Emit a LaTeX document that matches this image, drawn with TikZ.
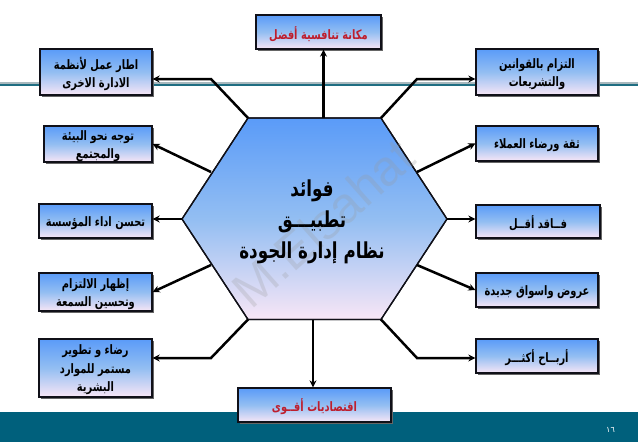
\documentclass[tikz,border=0pt]{standalone}
\usepackage{fontspec}
\usetikzlibrary{arrows.meta,shadows}
\setmainfont{Liberation Sans}
\newfontfamily\arabicfont[Script=Arabic,FakeStretch=0.76]{DejaVu Sans}
\newfontfamily\digitfont[Script=Arabic]{DejaVu Sans}
\TeXXeTstate=1
\newcommand{\artext}[1]{\raisebox{-2pt}[\height][\depth]{\beginR #1\endR}}
\definecolor{bandteal}{HTML}{00607C}
\definecolor{linedark}{HTML}{1F6E82}
\definecolor{linelight}{HTML}{A9B9BE}
\definecolor{gradtop}{HTML}{5A9BF8}
\definecolor{gradmid}{HTML}{93BEF2}
\definecolor{gradbot}{HTML}{F8E6F6}
\definecolor{redtext}{HTML}{BE1E2D}
\definecolor{edgeblack}{HTML}{101018}
\tikzset{
  gradbox/.style={draw=edgeblack,line width=1.3pt,top color=gradtop,bottom color=gradbot,middle color=gradmid,
    drop shadow={shadow xshift=2pt,shadow yshift=-2pt,fill=black!60,opacity=1},
    align=center,inner sep=0pt,text=black,font=\arabicfont\bfseries\fontsize{13}{18.5}\selectfont},
  redbox/.style={gradbox,text=redtext},
  conn/.style={line width=2.5pt,black,-{Stealth[length=7pt,width=7pt]},line join=miter},
  hexa/.style={draw=edgeblack,line width=1.3pt,top color=gradtop,bottom color=gradbot,middle color=gradmid},
  mark text/.style={font=\fontsize{50}{50}\selectfont,text=black!40,opacity=.25,rotate=41.5},
  hextext/.style={align=center,font=\arabicfont\bfseries\fontsize{22}{31}\selectfont,text=black}
}
\begin{document}
\begin{tikzpicture}[x=1pt,y=-1pt]
\useasboundingbox (0,0) rectangle (638,442);
\fill[white] (0,0) rectangle (638,442);
\fill[bandteal] (0,412) rectangle (638,442);
\fill[linelight] (0,81.5) rectangle (638,83.5);
\fill[linedark] (0,83.5) rectangle (638,85.5);
\node[text=white,font=\digitfont\fontsize{8}{8}\selectfont] (pagenum) at (610.5,428) {\artext{١٦}};
% hexagon
\coordinate (hnw) at (248,118);
\coordinate (hne) at (381,118);
\coordinate (he) at (447,219);
\coordinate (hse) at (381,319.5);
\coordinate (hsw) at (248,319.5);
\coordinate (hw) at (182,219);
\shade[hexa] (hnw) -- (hne) -- (he) -- (hse) -- (hsw) -- (hw) -- cycle;
\draw[edgeblack,line width=1.3pt,line join=miter] (hnw) -- (hne) -- (he) -- (hse) -- (hsw) -- (hw) -- cycle;
\coordinate (htop) at (323.5,118);
\coordinate (hbot) at (313,319.5);
\coordinate (hl2) at (211,172);
\coordinate (hl4) at (211,265);
\coordinate (hr2) at (417,172);
\coordinate (hr4) at (417,265);
\coordinate (bl1) at (211,79);
\coordinate (bl5) at (211,358);
\coordinate (br1) at (417,79);
\coordinate (br5) at (417,358);
\node[mark text] (watermark) at (323,223) {M.Elsahat};
\node[hextext] (title) at (312,220) {\artext{فوائد}\\\artext{تطبيـــق}\\\artext{نظام إدارة الجودة}};
% boxes
\node[redbox,minimum width=125pt,minimum height=34pt] (top) at (318.5,32) {\artext{مكانة تنافسية أفضل}};
\node[redbox,minimum width=153pt,minimum height=34pt] (bottom) at (314.5,405) {\artext{اقتصاديات أقــوى}};
\node[gradbox,minimum width=112pt,minimum height=46pt] (l1) at (96,72) {\artext{اطار عمل لأنظمة}\\\artext{الادارة الاخرى}};
\node[gradbox,minimum width=108pt,minimum height=36pt] (l2) at (98,144) {\artext{توجه نحو البيئة}\\\artext{والمجتمع}};
\node[gradbox,minimum width=113pt,minimum height=34pt] (l3) at (95.5,221) {\artext{تحسن اداء المؤسسة}};
\node[gradbox,minimum width=113pt,minimum height=38pt] (l4) at (95.5,292) {\artext{إظهار الالتزام}\\\artext{وتحسين السمعة}};
\node[gradbox,minimum width=113pt,minimum height=58pt] (l5) at (95.5,368) {\artext{رضاء و تطوير}\\\artext{مستمر للموارد}\\\artext{البشرية}};
\node[gradbox,minimum width=122pt,minimum height=46pt] (r1) at (537,72) {\artext{التزام بالقوانين}\\\artext{والتشريعات}};
\node[gradbox,minimum width=122pt,minimum height=35pt] (r2) at (537,143.5) {\artext{ثقة ورضاء العملاء}};
\node[gradbox,minimum width=124pt,minimum height=33pt] (r3) at (538,221.5) {\artext{فــاقد أقــل}};
\node[gradbox,minimum width=122pt,minimum height=34pt] (r4) at (537,290) {\artext{عروض واسواق جديدة}};
\node[gradbox,minimum width=122pt,minimum height=34pt] (r5) at (537,356) {\artext{أربــاح أكثـــر}};
% connectors
\draw[conn] (htop) -- (htop |- top.south);
\draw[conn] (hbot) -- (hbot |- bottom.north);
\draw[conn] (hnw) -- (bl1) -- (bl1 -| l1.east);
\draw[conn] (hl2) -- (l2.east);
\draw[conn] (hw) -- (hw -| l3.east);
\draw[conn] (hl4) -- (l4.east);
\draw[conn] (hsw) -- (bl5) -- (bl5 -| l5.east);
\draw[conn] (hne) -- (br1) -- (br1 -| r1.west);
\draw[conn] (hr2) -- (r2.west);
\draw[conn] (he) -- (he -| r3.west);
\draw[conn] (hr4) -- (r4.west);
\draw[conn] (hse) -- (br5) -- (br5 -| r5.west);
\end{tikzpicture}
\end{document}
